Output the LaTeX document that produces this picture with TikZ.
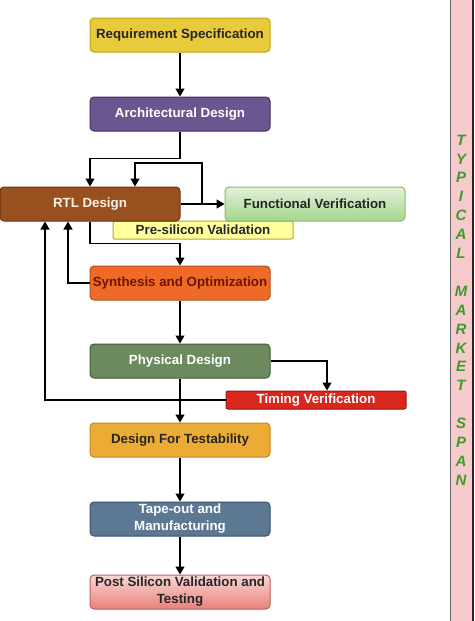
\documentclass[tikz,border=0pt]{standalone}
\usepackage{fontspec}
\setmainfont{Liberation Sans}
\usetikzlibrary{arrows.meta}
\definecolor{reqF}{HTML}{E8CB3C}\definecolor{reqD}{HTML}{C2A316}
\definecolor{archF}{HTML}{6A5792}\definecolor{archD}{HTML}{43325F}
\definecolor{rtlF}{HTML}{99501F}\definecolor{rtlD}{HTML}{6A3210}
\definecolor{fvT}{HTML}{E2F1DA}\definecolor{fvB}{HTML}{A3D68C}\definecolor{fvD}{HTML}{8CBB74}
\definecolor{preF}{HTML}{FFFF9E}\definecolor{preD}{HTML}{B3A43C}
\definecolor{synF}{HTML}{EE6B27}\definecolor{synD}{HTML}{B8501A}
\definecolor{phyF}{HTML}{6C8A5E}\definecolor{phyD}{HTML}{435C38}
\definecolor{timF}{HTML}{D9271E}\definecolor{timD}{HTML}{9A1410}
\definecolor{dftF}{HTML}{ECAB34}\definecolor{dftD}{HTML}{C08B18}
\definecolor{tapF}{HTML}{5C7893}\definecolor{tapD}{HTML}{3A4F66}
\definecolor{psT}{HTML}{F9D6D4}\definecolor{psB}{HTML}{E9817C}\definecolor{psD}{HTML}{C0605C}
\definecolor{bandF}{HTML}{F6CACA}
\definecolor{bandG}{HTML}{3E9A2C}
\begin{document}
\begin{tikzpicture}[x=1pt,y=-1pt,
  box/.style={rounded corners=4pt, line width=1pt, minimum width=180pt, minimum height=34pt,
    inner sep=1pt, align=center, font=\fontsize{13.3}{14.5}\selectfont\bfseries},
  thin box/.style={box, minimum height=18pt, rounded corners=2pt},
  arr/.style={line width=1.2pt, -{Triangle[length=8pt,width=9pt]}},
  letter/.style={font=\fontsize{15}{16}\selectfont\bfseries\itshape, text=bandG, inner sep=0pt}]
\useasboundingbox (0,0) rectangle (474,621);
\fill[white] (0,0) rectangle (474,621);
% band
\fill[bandF] (450,0) rectangle (472,621);
\draw[gray!80!black, line width=1pt] (450.5,0) -- (450.5,621);
\draw[black!85, line width=2pt] (473,0) -- (473,621);
\foreach \l [count=\i] in {T,Y,P,I,C,A,L,{},M,A,R,K,E,T,{},S,P,A,N}
  \node[letter] (l\i) at (461,{140+(\i-1)*18.9}) {\l};
% nodes
\node[box, fill=reqF, draw=reqD, text=black!85] (req) at (180,35) {Requirement Specification};
\node[box, fill=archF, draw=archD, text=white] (arch) at (180,114) {Architectural Design};
\node[thin box, fill=preF, draw=preD, text=black!85] (pre) at (203,230) {Pre-silicon Validation};
\node[box, fill=rtlF, draw=rtlD, text=orange!10] (rtl) at (90,204) {RTL Design};
\node[box, top color=fvT, bottom color=fvB, draw=fvD, text=black!85] (fv) at (315,204) {Functional Verification};
\node[box, fill=synF, draw=synD, text={rgb,255:red,110;green,20;blue,0}] (syn) at (180,283) {Synthesis and Optimization};
\node[box, fill=phyF, draw=phyD, text=white] (phy) at (180,361) {Physical Design};
\node[thin box, fill=timF, draw=timD, text=white] (tim) at (316,400) {Timing Verification};
\node[box, fill=dftF, draw=dftD, text=black!85] (dft) at (180,440) {Design For Testability};
\node[box, fill=tapF, draw=tapD, text=white, font=\fontsize{13.3}{17}\selectfont\bfseries] (tap) at (180,519) {Tape-out and\\Manufacturing};
\node[box, top color=psT, bottom color=psB, draw=psD, text=black!85, font=\fontsize{13.3}{17}\selectfont\bfseries] (ps) at (180,592) {Post Silicon Validation and\\Testing};
% connectors
\coordinate (fb) at (202,204);
\draw[arr] (req.south) -- (arch.north);
\draw[arr] (arch.south) -- ++(0,27) -| (rtl.north);
\draw[arr] (rtl.east) -- (fv.west);
\draw[arr] (fb) -- ++(0,-41) -| ([xshift=45pt]rtl.north);
\draw[arr] (rtl.south) -- ++(0,22) -| (syn.north);
\draw[arr] (syn.west) -| ([xshift=-22pt]rtl.south);
\draw[arr] (syn.south) -- (phy.north);
\draw[arr] (phy.east) -| ([xshift=11pt]tim.north);
\draw[arr] (phy.south) -- (dft.north);
\draw[arr] (tim.west) -| ([xshift=-45pt]rtl.south);
\draw[arr] (dft.south) -- (tap.north);
\draw[arr] (tap.south) -- (ps.north);
\end{tikzpicture}
\end{document}
